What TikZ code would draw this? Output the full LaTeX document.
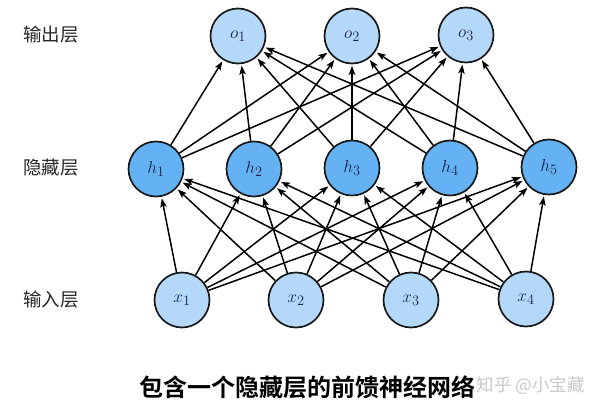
\documentclass[tikz,border=0pt]{standalone}
\usepackage{fontspec}
\newfontfamily\cjk{Noto Sans CJK SC}
\newfontfamily\cjkb{Noto Sans CJK SC Bold}
\usetikzlibrary{arrows.meta}
\definecolor{lightblue}{RGB}{180,216,249}
\definecolor{midblue}{RGB}{100,178,244}
\definecolor{inkblue}{RGB}{25,35,70}
\definecolor{wm}{RGB}{200,200,200}
\tikzset{
  neuron/.style={circle,draw=black!90,line width=1.7pt,minimum size=55pt,inner sep=0pt,text=inkblue,font=\fontsize{19}{22}\selectfont},
  inneuron/.style={neuron,fill=lightblue},
  hidneuron/.style={neuron,fill=midblue},
  layerlabel/.style={font=\cjk\fontsize{18.5}{22}\selectfont,text=black!85},
  conn/.style={-{Stealth[length=9pt,width=6.5pt,inset=2pt]},line width=1.5pt,black,shorten >=1.5pt},
}
\begin{document}
\begin{tikzpicture}[x=1pt,y=-1pt]
\useasboundingbox (0,0) rectangle (599,412);
% output layer
\node[inneuron] (o1) at (238,36) {$o_1$};
\node[inneuron] (o2) at (352,36) {$o_2$};
\node[inneuron] (o3) at (466,35) {$o_3$};
% hidden layer
\node[hidneuron] (h1) at (156,169) {$h_1$};
\node[hidneuron] (h2) at (254,169) {$h_2$};
\node[hidneuron] (h3) at (352,168) {$h_3$};
\node[hidneuron] (h4) at (450,168) {$h_4$};
\node[hidneuron] (h5) at (549,167) {$h_5$};
% input layer
\node[inneuron] (x1) at (182,300) {$x_1$};
\node[inneuron] (x2) at (296,300) {$x_2$};
\node[inneuron] (x3) at (411,300) {$x_3$};
\node[inneuron] (x4) at (526,299) {$x_4$};
% connections
\foreach \i in {1,...,4}{
  \foreach \j in {1,...,5}{
    \draw[conn] (x\i) -- (h\j);
  }
}
\foreach \j in {1,...,5}{
  \foreach \k in {1,2,3}{
    \draw[conn] (h\j) -- (o\k);
  }
}
% layer labels
\node[layerlabel] (lo) at (51,35) {输出层};
\node[layerlabel] (lh) at (51,168) {隐藏层};
\node[layerlabel] (li) at (51,300) {输入层};
% caption
\node[font=\cjkb\fontsize{24}{27}\selectfont,anchor=west] (cap) at (136,387) {包含一个隐藏层的前馈神经网络};
\node[font=\cjk\fontsize{17.5}{20}\selectfont,text=wm,anchor=west] (wmk) at (473,386) {知乎 @小宝藏};
\end{tikzpicture}
\end{document}
